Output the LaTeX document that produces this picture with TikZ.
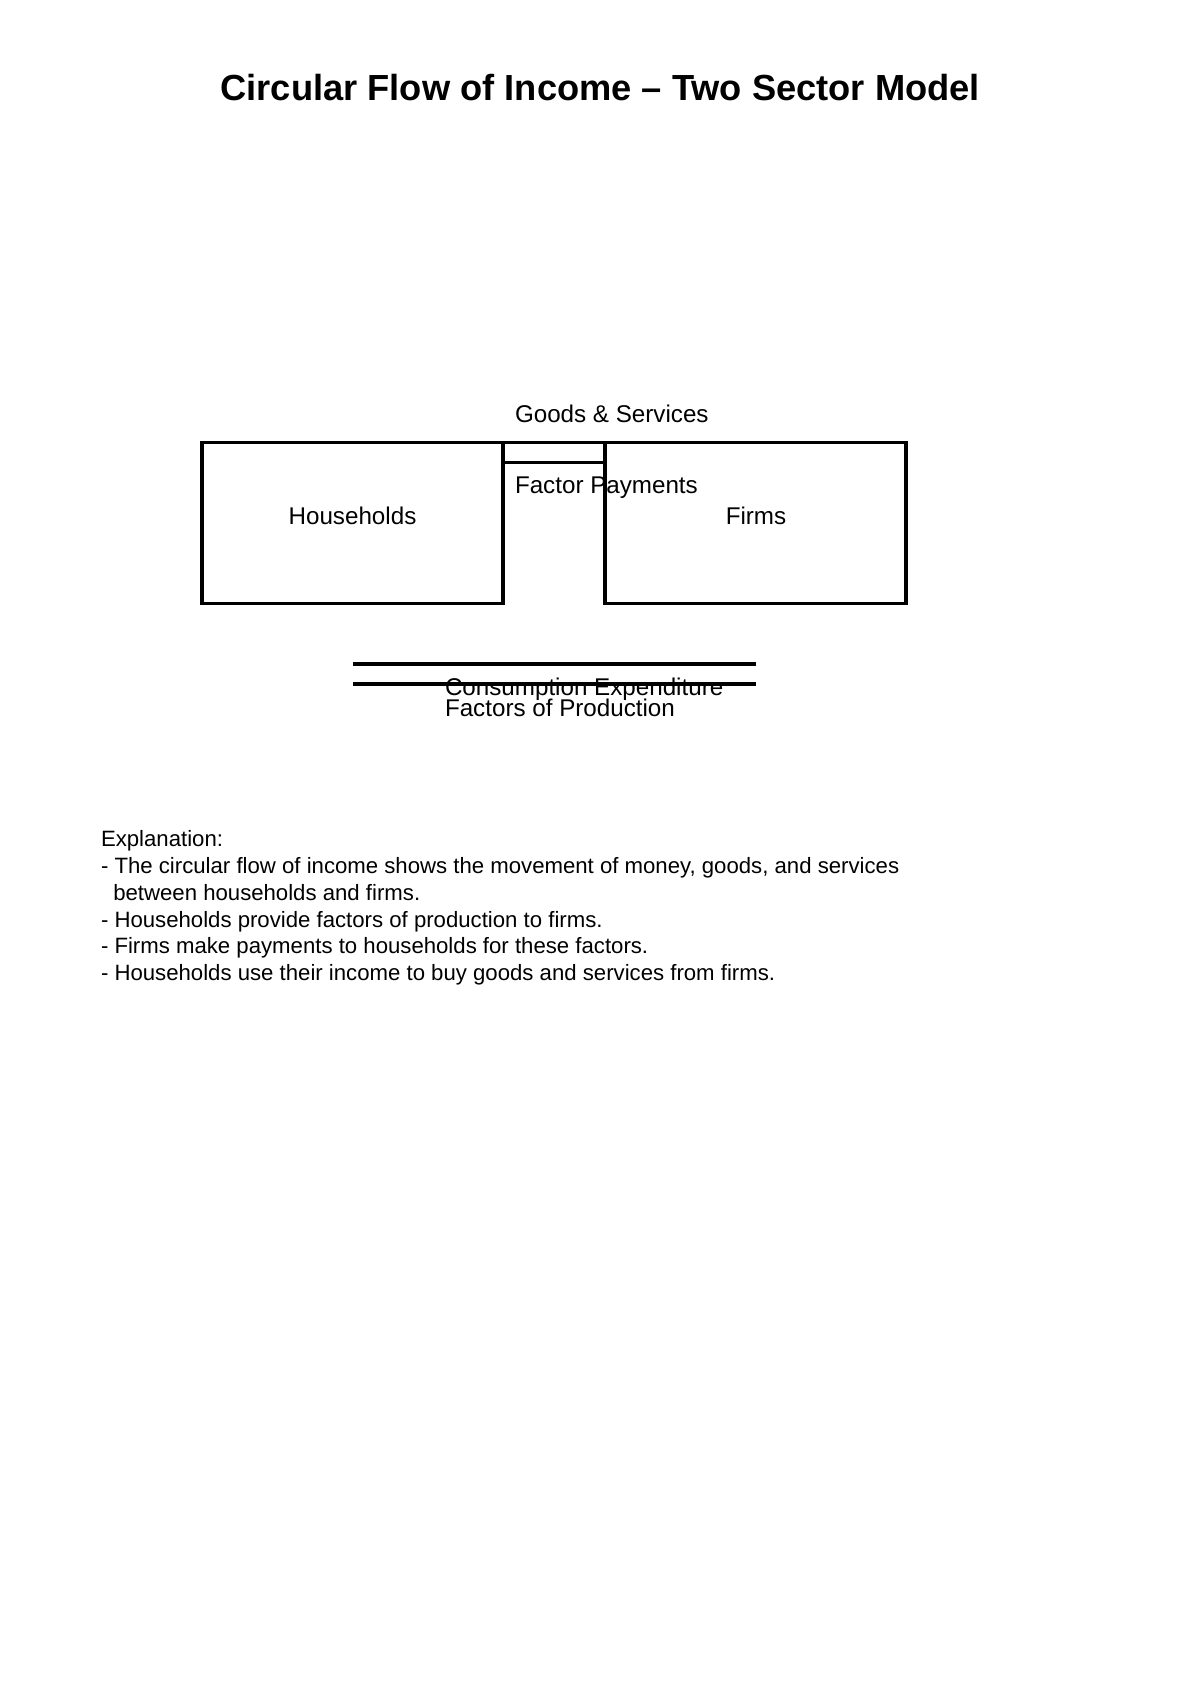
\documentclass[tikz,border=0pt]{standalone}
\usepackage{fontspec}
\setmainfont{Liberation Sans}
\begin{document}
\begin{tikzpicture}[x=0.49606pt,y=-0.49606pt,
  box/.style={draw,line width=1.6pt,rectangle,inner sep=0pt,outer sep=0pt,minimum width=149.3pt,minimum height=79.9pt},
  lbl/.style={inner sep=0pt,outer sep=0pt,font=\fontsize{12}{14}\selectfont},
  expl/.style={inner sep=0pt,outer sep=0pt,font=\fontsize{11}{13}\selectfont},
  ttl/.style={inner sep=0pt,outer sep=0pt,font=\fontsize{18}{22}\selectfont\bfseries},
  flow/.style={line width=1.6pt}]
\useasboundingbox[fill=white] (0,0) rectangle (1200,1696);
% title
\node[ttl,anchor=base west] (title) at (220.5,100) {Circular Flow of Income – Two Sector Model};
% sectors
\node[box] (hh) at (352.5,523.3) {};
\node[box] (fm) at (755.5,523.3) {};
\node[lbl,anchor=base] (hhl) at (352.5,524) {Households};
\node[lbl,anchor=base] (fml) at (756,524) {Firms};
% upper flows
\coordinate (ym) at (0,462.3);
\draw[flow] (hh.north east) -- (fm.north west);
\draw[flow] (hh.east |- ym) -- (fm.west |- ym);
\node[lbl,anchor=base west] (gs) at (515,422) {Goods \& Services};
\node[lbl,anchor=base west] (fp) at (515,493.5) {Factor Payments};
% lower flows
\coordinate (y1) at (0,664);
\coordinate (y2) at (0,684);
\draw[flow] (hh.center |- y1) -- (fm.center |- y1);
\draw[flow] (hh.center |- y2) -- (fm.center |- y2);
\node[lbl,anchor=base west] (ce) at (445,695.5) {Consumption Expenditure};
\node[lbl,anchor=base west] (fop) at (445,716) {Factors of Production};
% explanation
\node[expl,anchor=base west] (e1) at (101,846.7) {Explanation:};
\node[expl,anchor=base west] (e2) at (101,873.5) {- The circular flow of income shows the movement of money, goods, and services};
\node[expl,anchor=base west] (e3) at (113.3,900.3) {between households and firms.};
\node[expl,anchor=base west] (e4) at (101,927.1) {- Households provide factors of production to firms.};
\node[expl,anchor=base west] (e5) at (101,953.9) {- Firms make payments to households for these factors.};
\node[expl,anchor=base west] (e6) at (101,980.7) {- Households use their income to buy goods and services from firms.};
\end{tikzpicture}
\end{document}
